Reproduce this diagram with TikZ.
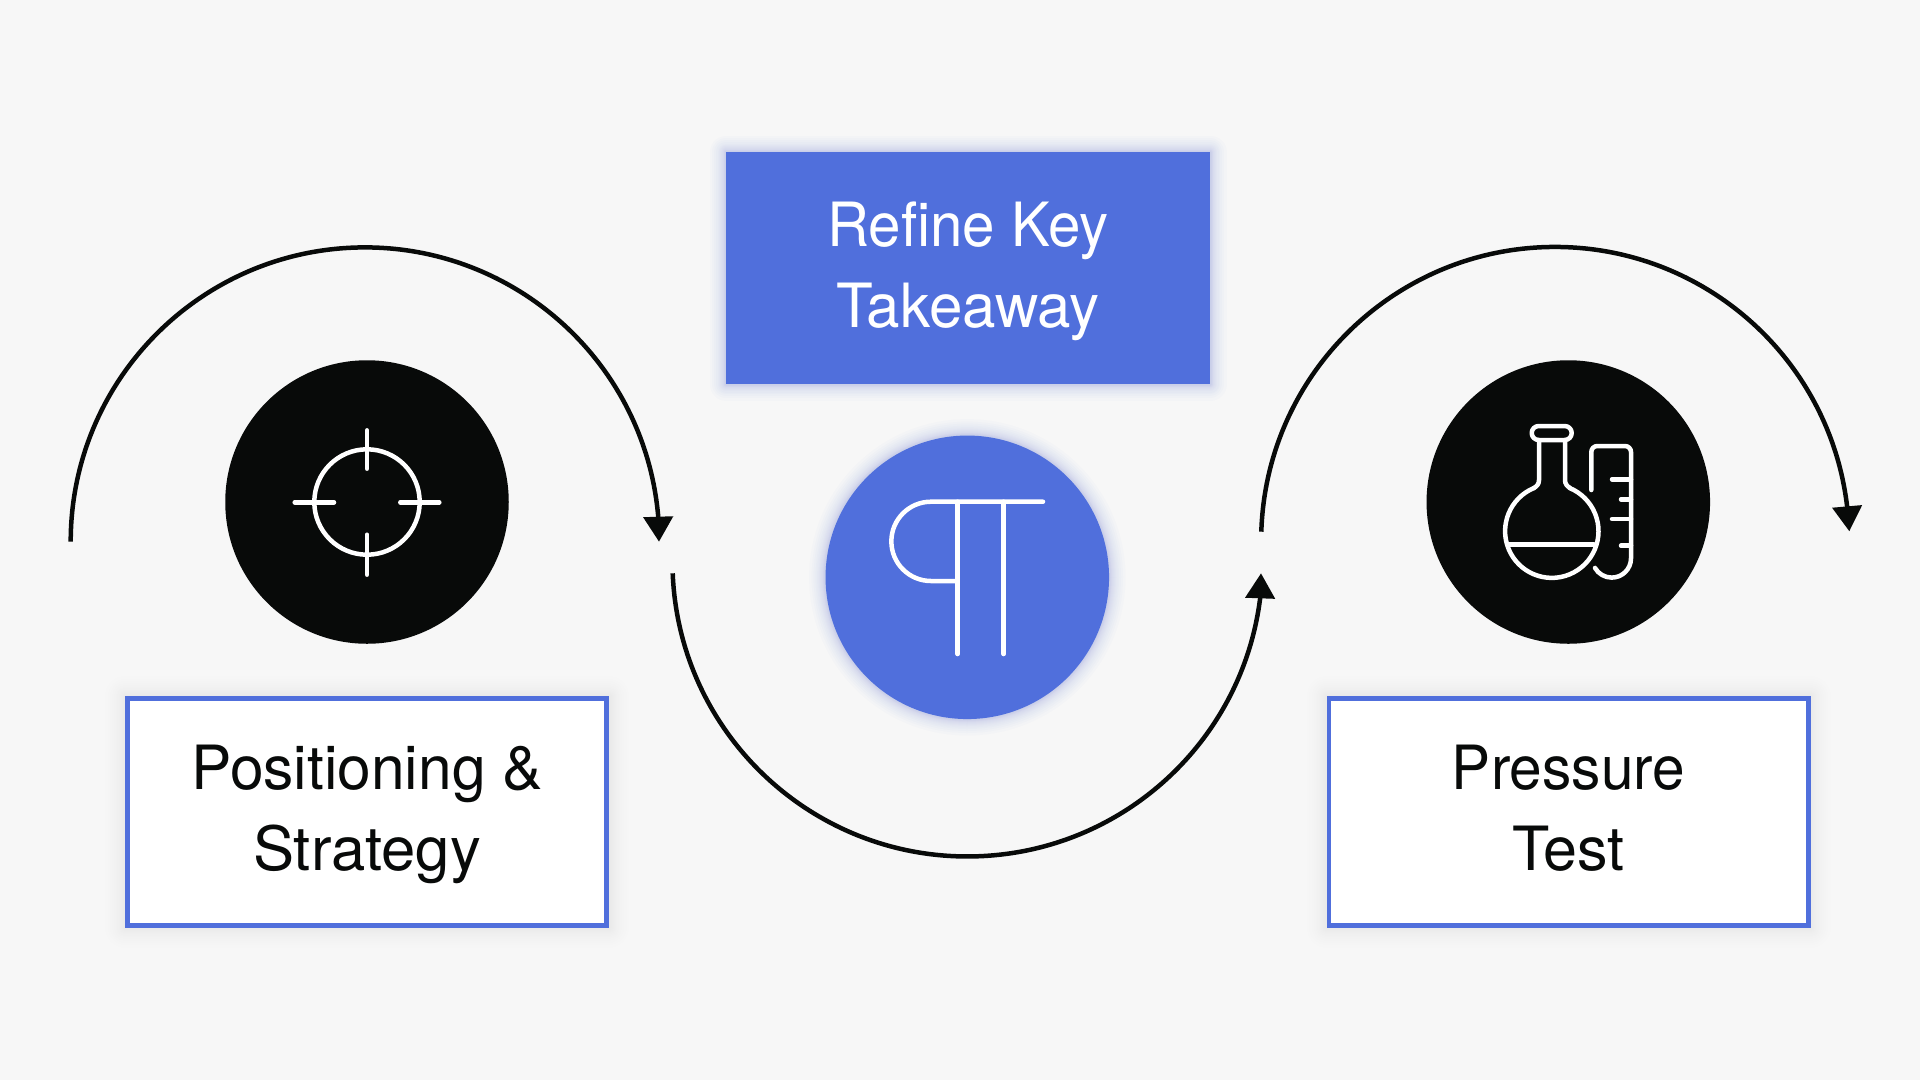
\documentclass[tikz,border=0pt]{standalone}
\usepackage{fontspec}
\setmainfont{TeX Gyre Heros}
\usetikzlibrary{arrows.meta}
\definecolor{bgc}{HTML}{F7F7F7}
\definecolor{bluec}{HTML}{506FDC}
\definecolor{inkc}{HTML}{080A09}
\newcommand{\linetop}[1]{\rule{0pt}{#1pt}}
\newcommand{\linebot}{\rule[-12.8pt]{0pt}{12.8pt}}
\newcommand{\wscale}[2]{\scalebox{#1}[1]{#2}}
\tikzset{
  x=1pt,y=-1pt,
  disc/.style={circle,minimum size=283.5pt,inner sep=0pt,draw=none},
  darkdisc/.style={disc,fill=inkc},
  bluedisc/.style={disc,fill=bluec},
  plainbox/.style={rectangle,minimum width=484pt,minimum height=232pt,inner sep=0pt,align=center},
  whitebox/.style={plainbox,fill=white,draw=bluec,line width=4.6pt,minimum width=479.4pt,minimum height=227.1pt,text=inkc},
  bluebox/.style={plainbox,fill=bluec,text=white},
  boxtext/.style={font=\fontsize{61}{81}\selectfont},
  flow/.style={draw=inkc,line width=4.5pt,-{Triangle[length=25pt,width=29pt]}},
  iconline/.style={draw=white,line width=4.5pt,line cap=round,line join=round},
  glowb/.style={draw=bluec,draw opacity=0.02,line join=round},
  glowg/.style={draw=black,draw opacity=0.005,line join=round}
}
\begin{document}
\begin{tikzpicture}
\useasboundingbox (0,0) rectangle (1920,1080);
\fill[bgc] (0,0) rectangle (1920,1080);

% glows
\foreach \w in {2,3,4,5,6,8,10,12,14,17,20,24,28,33}{
  \draw[glowb,line width=\w pt] (726,152) rectangle (1210,384);
  \draw[glowb,line width=\w pt] (967.3,577.3) circle[radius=141.7];
}
\foreach \w in {3,5,7,9,11,13,16,19,22,26,30,35,40}{
  \draw[glowg,line width=\w pt] (125,696) rectangle (609,927.7);
  \draw[glowg,line width=\w pt] (1326.5,696) rectangle (1810.5,927.7);
}

% nodes
\node[darkdisc] (target) at (367,502) {};
\node[darkdisc] (flask) at (1568.3,502) {};
\node[bluedisc] (pilcrow) at (967.3,577.3) {};
\node[bluebox,boxtext] (refine) at (968,268) {\linetop{51.6}\wscale{.955}{Refine Key}\\\wscale{.986}{Takeaway}\linebot};
\node[whitebox,boxtext] (position) at (367,811.85) {\linetop{49}\wscale{.992}{Positioning \&}\\\wscale{1.01}{Strategy}\linebot};
\node[whitebox,boxtext] (pressure) at (1568.5,811.85) {\linetop{49}\wscale{.96}{Pressure}\\Test\linebot};

% connectors
\coordinate (a1) at (70.7,541.7);
\coordinate (a1t) at (659,541.7);
\coordinate (a2) at (672.7,573.3);
\coordinate (a2t) at (1261,573.3);
\coordinate (a3) at (1261.3,531.7);
\coordinate (a3t) at (1849.3,531.3);
\path[flow] (a1) arc[start angle=180,end angle=355,radius=294.3] -- (a1t);
\path[flow] (a2) arc[start angle=177.7,end angle=7.2,radius=295] -- (a2t);
\path[flow] (a3) arc[start angle=181.8,end angle=353.4,radius=294] -- (a3t);

% target icon
\draw[iconline] (target.center) circle[radius=52.7];
\draw[iconline] (367,430.3) -- (367,468.7);
\draw[iconline] (367,534.7) -- (367,574.7);
\draw[iconline] (294.7,502.3) -- (334,502.3);
\draw[iconline] (400.3,502.3) -- (439.3,502.3);

% pilcrow icon
\draw[iconline] (1043,501.7) -- (931,501.7) arc[start angle=270,end angle=90,radius=39.65] -- (957.7,581);
\draw[iconline] (957.7,501.7) -- (957.7,654);
\draw[iconline] (1003.7,501.7) -- (1003.7,654);

% flask icon
\draw[iconline] (1539,440) -- (1539,480) .. controls (1539,484) and (1537,486) .. (1534,488);
\draw[iconline] (1565,440) -- (1565,480) .. controls (1565,484) and (1567,486) .. (1570,488);
\draw[iconline,rounded corners=7pt] (1531.7,426) rectangle (1571.7,440);
\draw[iconline] (1534,488) arc[start angle=247.6,end angle=-67.6,radius=46.7];
\draw[iconline] (1509,544.7) -- (1594,544.7);
\draw[iconline] (1591.3,490) -- (1591.3,452) arc[start angle=180,end angle=270,radius=6] -- (1625,446) arc[start angle=270,end angle=360,radius=6] -- (1631,558.3) arc[start angle=0,end angle=150,radius=19.3];
\draw[iconline] (1612,479.3) -- (1631,479.3);
\draw[iconline] (1621,499.3) -- (1631,499.3);
\draw[iconline] (1612,519) -- (1631,519);
\draw[iconline] (1621,545.7) -- (1631,545.7);
\end{tikzpicture}
\end{document}
